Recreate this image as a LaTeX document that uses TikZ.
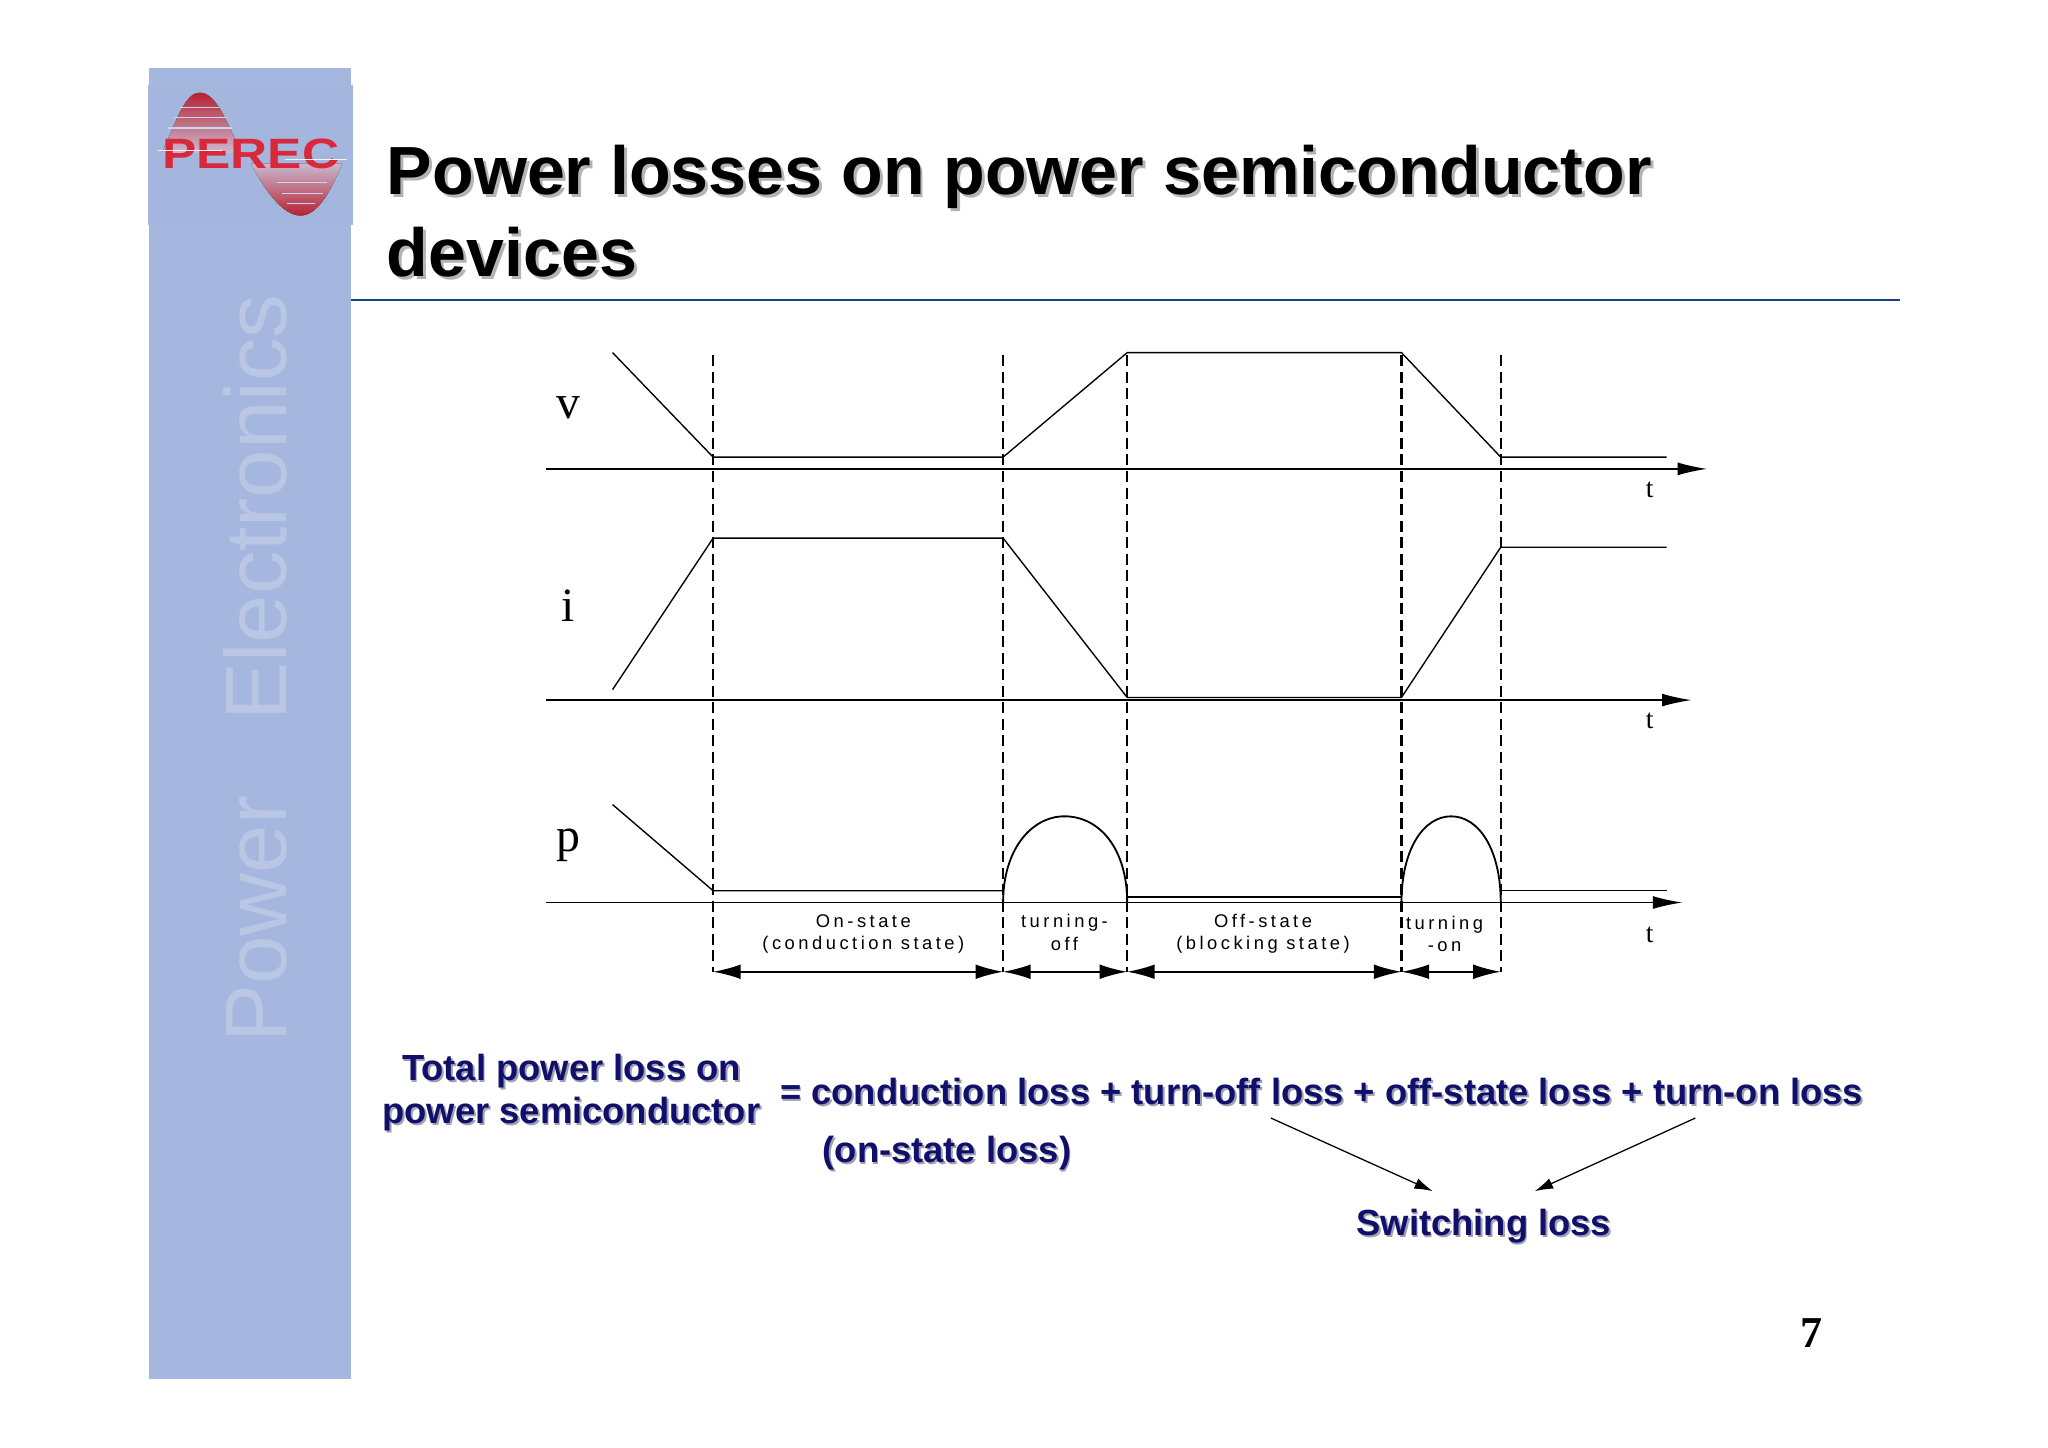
\documentclass[tikz,border=0pt]{standalone}
\usepackage{xcolor}
\usepackage{fontspec}
\usepackage{tikz}
\usetikzlibrary{arrows.meta}
\setmainfont{Liberation Sans}
\newfontfamily\wavefont{Liberation Serif}
\newfontfamily\statefont[LetterSpace=19]{Liberation Sans}
\definecolor{sidebar}{HTML}{A6B7DF}
\definecolor{logoback}{HTML}{A4B6DD}
\definecolor{sidetext}{HTML}{B9C7E5}
\definecolor{logored}{HTML}{D8283A}
\definecolor{rulecol}{HTML}{17408F}
\definecolor{lossblue}{HTML}{10106A}
\definecolor{lossshade}{HTML}{A0A0B4}
\definecolor{titleshade}{HTML}{B4B4B4}
\newcommand{\shadetext}[4]{\makebox[0pt][l]{\hspace{#3}\raisebox{-#3}{\color{#4}#2}}{\color{#1}#2}}
\tikzset{
  wave/.style={line width=0.75pt},
  axis/.style={line width=0.75pt, -{Latex[length=16pt, width=7pt]}},
  cut/.style={line width=1.3pt, dash pattern=on 6pt off 3pt},
  span/.style={line width=0.9pt, {Latex[length=15pt, width=8pt]}-{Latex[length=15pt, width=8pt]}},
  pointer/.style={line width=0.7pt, -{Latex[length=10pt, width=6pt]}},
  state/.style={font=\statefont\fontsize{10}{12.2}\selectfont, align=center, inner sep=0pt},
  letter/.style={font=\wavefont\fontsize{26}{26}\selectfont, inner sep=0pt},
  tlabel/.style={font=\wavefont\fontsize{15}{15}\selectfont, inner sep=0pt},
  loss/.style={font=\bfseries\fontsize{19.8}{23.5}\selectfont, align=center, inner sep=0pt, anchor=base},
}
\begin{document}
\begin{tikzpicture}[x=0.025cm, y=-0.025cm]
\useasboundingbox (0,0) rectangle (1568,1108);

% side bar with logo
\fill[sidebar] (114,52) rectangle (269,1056);
\fill[logoback] (113,65) rectangle (270,172);
\node[rotate=90, anchor=base west, inner sep=0pt, text=sidetext, font=\fontsize{47.4}{47.4}\selectfont] (side) at (219,798.5) {Power\hspace{41pt}Electronics};
\fill[top color=logored!85!black, bottom color=sidebar!60!pink] (124,117) .. controls (136,90) and (142,71) .. (153,71) .. controls (166,71) and (174,95) .. (185,117) -- cycle;
\fill[bottom color=logored!85!black, top color=sidebar!60!pink] (192,125) .. controls (205,150) and (218,165) .. (230,165) .. controls (242,165) and (252,150) .. (262,125) -- cycle;
\foreach \ya/\xa/\xb in {82/138/168, 90/133/174, 98/129/178}
    \draw[sidebar!60!white, line width=0.6pt] (\xa,\ya) -- (\xb,\ya);
\foreach \ya/\xa/\xb in {140/212/250, 148/216/247, 156/220/241}
    \draw[sidebar!60!white, line width=0.6pt] (\xa,\ya) -- (\xb,\ya);
\node[inner sep=0pt, text=logored, font=\bfseries\fontsize{22}{22}\selectfont, xscale=1.27, yscale=1.05] (logo) at (192,118) {PEREC};
\draw[white!85!sidebar, line width=0.6pt] (121,115) -- (170,115);
\draw[white!85!sidebar, line width=0.6pt] (218,122) -- (266,122);

% title
\node[anchor=base west, inner sep=0pt, font=\bfseries\fontsize{37.1}{44}\selectfont] (title1) at (296,149) {\shadetext{black}{Power losses on power semiconductor}{1.6pt}{titleshade}};
\node[anchor=base west, inner sep=0pt, font=\bfseries\fontsize{37.1}{44}\selectfont] (title2) at (296,212) {\shadetext{black}{devices}{1.6pt}{titleshade}};
\draw[rulecol, line width=1pt] (269,230) -- (1455,230);

% cuts between the states
\foreach \cutname/\xc in {a/546, b/768, c/863, d/1073, e/1149} {
    \coordinate (top\cutname) at (\xc,272);
    \coordinate (low\cutname) at (\xc,744);
    \draw[cut] (top\cutname) -- (low\cutname);
}

% v
\node[letter] (vname) at (435,312) {v};
\draw[axis] (418,359) -- (1307,359);
\node[tlabel] (tv) at (1263,375) {t};
\draw[wave] (469,270) -- (546,350) -- (768,350) -- (863,270) -- (1073,270) -- (1149,350) -- (1276,350);

% i
\node[letter] (iname) at (435,464) {i};
\draw[axis] (418,536) -- (1295,536);
\node[tlabel] (ti) at (1263,552) {t};
\draw[wave] (469,528) -- (546,412) -- (768,412) -- (863,534) -- (1073,534) -- (1149,419) -- (1276,419);

% p
\node[letter] (pname) at (435,647) {p};
\draw[axis] (418,691) -- (1288,691);
\node[tlabel] (tp) at (1263,716) {t};
\draw[wave] (469,616) -- (546,682) -- (768,682);
\draw[wave, line width=1pt] (768,691) .. controls (768,650) and (790,625) .. (815,625) .. controls (842,625) and (863,650) .. (863,691);
\draw[wave, line width=1pt] (863,687) -- (1073,687);
\draw[wave, line width=1pt] (1073,691) .. controls (1073,650) and (1090,625) .. (1111,625) .. controls (1132,625) and (1149,650) .. (1149,691);
\draw[wave] (1149,682) -- (1276,682);

% states
\node[state] (onstate) at (661,715) {On-state\\(conduction state)};
\node[state] (toff) at (815,714) {turning-\\off};
\node[state] (offstate) at (967,715) {Off-state\\(blocking state)};
\node[state] (ton) at (1106,715) {turning\\-on};
\draw[span] (lowa) -- (lowb);
\draw[span] (lowb) -- (lowc);
\draw[span] (lowc) -- (lowd);
\draw[span] (lowd) -- (lowe);

% the sum
\node[loss] (total) at (437.5,860.5) {\shadetext{lossblue}{Total power loss on}{1pt}{lossshade}\\\shadetext{lossblue}{power semiconductor}{1pt}{lossshade}};
\node[loss, anchor=base west] (sum) at (597,846) {\shadetext{lossblue}{= conduction loss + turn-off loss + off-state loss + turn-on loss}{1pt}{lossshade}};
\node[loss] (onloss) at (725,890) {\shadetext{lossblue}{(on-state loss)}{1pt}{lossshade}};
\node[loss] (switching) at (1136,946) {\shadetext{lossblue}{Switching loss}{1pt}{lossshade}};
\coordinate (fromoff) at (973,856);
\coordinate (fromon) at (1298,856);
\coordinate (tooff) at (1097,912);
\coordinate (toon) at (1175,912);
\draw[pointer] (fromoff) -- (tooff);
\draw[pointer] (fromon) -- (toon);

\node[inner sep=0pt, font=\wavefont\bfseries\fontsize{24}{24}\selectfont] (page) at (1387,1021) {7};
\end{tikzpicture}
\end{document}
